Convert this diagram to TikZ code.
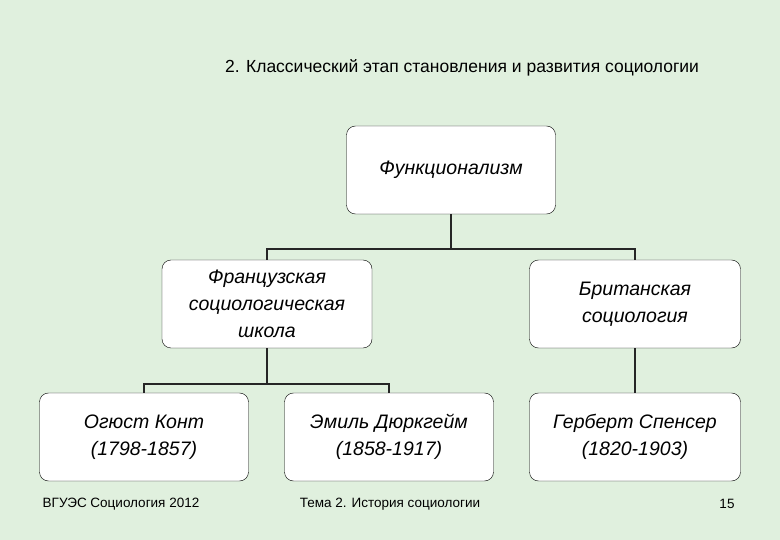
\documentclass[tikz,border=0pt]{standalone}
\usepackage{fontspec}
\setmainfont{Liberation Sans}
\definecolor{slidebg}{RGB}{224,240,222}
\begin{document}
\begin{tikzpicture}[x=1pt,y=-1pt,
    schoolbox/.style={draw=black,fill=white,rounded corners=9pt,minimum width=209pt,
      minimum height=88pt,align=center,font=\fontsize{19.5}{27}\selectfont\itshape},
    tree/.style={draw=black!85,line width=1.8pt}]
  \fill[slidebg] (0,0) rectangle (780,540);
  \node at (462,68) {\fontsize{17.5}{20}\selectfont 2. Классический этап становления и развития социологии};

  % boxes
  \node[schoolbox] (func) at (451,170) {Функционализм};
  \node[schoolbox,minimum width=210pt] (french) at (267,304) {Французская\\социологическая\\школа};
  \node[schoolbox,minimum width=211pt] (brit) at (635,304) {Британская\\социология};
  \node[schoolbox] (comte) at (144,437) {Огюст Конт\\(1798-1857)};
  \node[schoolbox] (durk) at (389,437) {Эмиль Дюркгейм\\(1858-1917)};
  \node[schoolbox,minimum width=211pt] (spencer) at (635,437) {Герберт Спенсер\\(1820-1903)};

  % connectors
  \draw[tree] (func.south) -- ++(0,35) coordinate (hub);
  \draw[tree] (french.north) |- (hub) -| (brit.north);
  \draw[tree] (french.south) -- ++(0,36) coordinate (hubb);
  \draw[tree] (comte.north) |- (hubb) -| (durk.north);
  \draw[tree] (brit.south) -- (spencer.north);

  % footer
  \node (fl) at (121,504) {\fontsize{13.5}{16}\selectfont ВГУЭС Социология 2012};
  \node (fc) at (390,504) {\fontsize{13.5}{16}\selectfont Тема 2. История социологии};
  \node (fr) at (727,504) {\fontsize{13.5}{16}\selectfont 15};
\end{tikzpicture}
\end{document}
